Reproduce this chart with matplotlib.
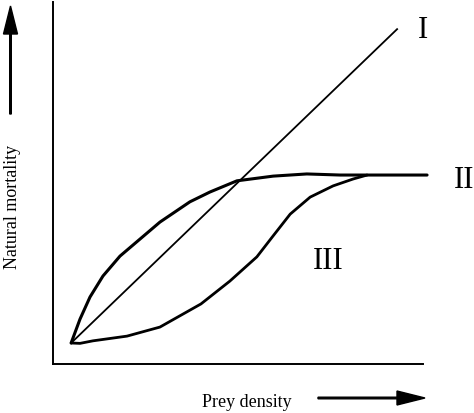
import matplotlib
matplotlib.use("Agg")
import matplotlib.pyplot as plt
from matplotlib.patches import FancyArrow
from matplotlib.transforms import IdentityTransform

# --- data (arbitrary 0-100 units) ---
# Type I: straight line from the origin point
type1_x = [4.9, 93.0]
type1_y = [5.8, 92.5]

# Type II: saturating curve
type2_x = [4.9, 7.3, 10.0, 13.5, 18.1, 23.5, 28.9, 37.0, 42.4, 49.7, 59.5, 68.6, 77.6, 84.9, 101.1]
type2_y = [5.8, 12.4, 18.5, 24.3, 29.8, 34.5, 39.2, 44.8, 47.5, 50.6, 51.9, 52.5, 52.2, 52.2, 52.2]

# Type III: sigmoid curve joining II at the plateau
type3_x = [4.9, 7.3, 10.8, 20.0, 28.9, 40.0, 47.8, 55.1, 59.5, 64.1, 69.5, 75.7, 81.1, 84.9]
type3_y = [5.8, 5.7, 6.4, 7.7, 10.2, 16.6, 22.9, 29.6, 35.4, 41.4, 46.1, 49.2, 51.1, 52.2]

labels = ["I", "II", "III"]
label_pos = [(100.1, 92.5), (111.2, 51.1), (74.5, 28.7)]

serif = ["Liberation Serif", "DejaVu Serif"]

fig = plt.figure(figsize=(4.74, 4.14), dpi=100)
ax = fig.add_axes([53 / 474, 1 - 365 / 414, 370 / 474, 362 / 414])
ax.set_xlim(0, 100)
ax.set_ylim(0, 100)
ax.set_xticks([])
ax.set_yticks([])
for side in ["top", "right"]:
    ax.spines[side].set_visible(False)
for side in ["left", "bottom"]:
    ax.spines[side].set_linewidth(1.4)

ax.plot(type1_x, type1_y, color="black", linewidth=1.3)
ax.plot(type2_x, type2_y, color="black", linewidth=2.2, clip_on=False,
        solid_joinstyle="round", solid_capstyle="round")
ax.plot(type3_x, type3_y, color="black", linewidth=2.0, clip_on=False,
        solid_joinstyle="round", solid_capstyle="round")

for lab, (lx, ly) in zip(labels, label_pos):
    ax.text(lx, ly, lab, family=serif, fontsize=22, ha="center", va="center",
            clip_on=False)

# axis captions
fig.text(13 / 474, 0.5, "Natural mortality", family=serif, fontsize=13,
         rotation=90, ha="center", va="center")
fig.text(247 / 474, 11 / 414, "Prey density", family=serif, fontsize=13,
         ha="center", va="center")

# direction arrows (pixel coordinates)
fig.add_artist(FancyArrow(10.5, 414 - 115, 0, 108, width=1.6, head_width=14,
                          head_length=28, length_includes_head=True,
                          color="black", transform=IdentityTransform()))
fig.add_artist(FancyArrow(318, 15, 107, 0, width=1.6, head_width=14,
                          head_length=28, length_includes_head=True,
                          color="black", transform=IdentityTransform()))

fig.savefig("out.png", dpi=100)
